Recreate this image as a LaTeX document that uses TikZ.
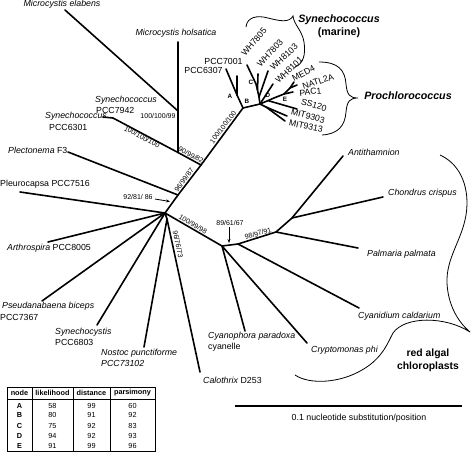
\documentclass[tikz,border=0pt]{standalone}
\usepackage{fontspec}
\setmainfont{Liberation Sans}
\usetikzlibrary{arrows.meta}
\begin{document}
\begin{tikzpicture}[x=1pt,y=-1pt,
  br/.style={line width=1.6pt, line cap=round, line join=round},
  sp/.style={font=\fontsize{8.8}{10}\selectfont\itshape, inner sep=0pt},
  rg/.style={font=\fontsize{8.8}{10}\selectfont, inner sep=0pt},
  wh/.style={font=\fontsize{8.7}{10}\selectfont, inner sep=0pt},
  bs/.style={font=\fontsize{7}{8}\selectfont, inner sep=0pt},
  lt/.style={font=\fontsize{6.3}{7}\selectfont\bfseries, inner sep=0pt},
  big/.style={font=\fontsize{10.7}{12}\selectfont\bfseries, inner sep=0pt},
  tb/.style={font=\fontsize{7.3}{8}\selectfont, inner sep=0pt},
  tbb/.style={font=\fontsize{7.3}{8}\selectfont\bfseries, inner sep=0pt},
  brace/.style={line width=0.8pt},
  arr/.style={line width=0.8pt, -{Stealth[length=4pt,width=3pt]}}
]
\fill[white] (0,0) rectangle (474,452);
\useasboundingbox (0,0) rectangle (474,452);

% ---------- internal nodes ----------
\coordinate (R0) at (165,213);
\coordinate (N1) at (178,195);
\coordinate (N2) at (201,165);
\coordinate (N3) at (178,152.5);
\coordinate (N4) at (178,111);
\coordinate (X)  at (243,108);
\coordinate (NA) at (237,95);
\coordinate (NB) at (260,104);
\coordinate (NC) at (256,84);
\coordinate (P1) at (259,97);
\coordinate (P2) at (257.5,90);
\coordinate (NS) at (268,100.6);
\coordinate (ND) at (274,98);
\coordinate (NE) at (284,94);
\coordinate (NM) at (290,88);
\coordinate (NT) at (266,107);
\coordinate (N5) at (167,219);
\coordinate (N6) at (222,246);
\coordinate (N7) at (238,244);
\coordinate (N8) at (276,232);
\coordinate (N9) at (292,218);

% ---------- leaf ends ----------
\coordinate (lElab) at (65,10);
\coordinate (lHols) at (178,42);
\coordinate (lSyn)  at (113,118);
\coordinate (lSyn0) at (103,117);
\coordinate (lPlec) at (68,152);
\coordinate (lPleu) at (20,192);
\coordinate (lArth) at (48,242);
\coordinate (lPseu) at (42,301);
\coordinate (lSyny) at (97,325);
\coordinate (lNost) at (144,347);
\coordinate (lCalo) at (200,372);
\coordinate (lCyph) at (245,331);
\coordinate (lCryp) at (307,343);
\coordinate (lCyan) at (359,308);
\coordinate (lPalm) at (358,248);
\coordinate (lChon) at (383,197);
\coordinate (lAnti) at (343,156);
\coordinate (l7001) at (237,76);
\coordinate (l6307) at (226,69);
\coordinate (lW7805) at (247,65);
\coordinate (lW7803) at (258,74);
\coordinate (lW8103) at (268,71);
\coordinate (lW8101) at (273,84);
\coordinate (lMED) at (294,82);
\coordinate (lNATL) at (297,85);
\coordinate (lPAC) at (293,92);
\coordinate (lSS) at (297,109);
\coordinate (l9303) at (287,116);
\coordinate (l9313) at (285,121);

% ---------- branches ----------
\draw[br] (lElab) -- (N4);
\draw[br] (lHols) -- (N4) -- (N3);
\draw[br] (lSyn0) -- (lSyn) -- (N3) -- (N2);
\draw[br] (R0) -- (N1) -- (N2) -- (X);
\draw[br] (lPlec) -- (N1);
\draw[br] (X) -- (NA) -- (l6307);
\draw[br] (NA) -- (l7001);
\draw[br] (X) -- (NB);
\draw[br] (NB) -- (P1) -- (P2) -- (NC) -- (lW7805);
\draw[br] (P2) -- (lW7803);
\draw[br] (P1) -- (lW8103);
\draw[br] (NB) -- (lW8101);
\draw[br] (NB) -- (NS) -- (ND) -- (NE) -- (NM) -- (lMED);
\draw[br] (NM) -- (lNATL);
\draw[br] (NE) -- (lPAC);
\draw[br] (NS) -- (lSS);
\draw[br] (NB) -- (NT) -- (l9303);
\draw[br] (NT) -- (l9313);
\draw[br] (lPleu) -- (R0);
\draw[br] (lArth) -- (R0);
\draw[br] (lPseu) -- (R0);
\draw[br] (lSyny) -- (R0);
\draw[br] (R0) -- (N5) -- (lNost);
\draw[br] (N5) -- (lCalo);
\draw[br] (R0) -- (N6) -- (N7) -- (N8) -- (N9) -- (lAnti);
\draw[br] (N9) -- (lChon);
\draw[br] (N8) -- (lPalm);
\draw[br] (N7) -- (lCyan);
\draw[br] (N6) -- (lCyph);
\draw[br] (N6) -- (lCryp);

% ---------- leaf labels ----------
\node[sp] (tElab) at (62,4.5) {Microcystis elabens};
\node[sp] (tHols) at (176,33) {Microcystis holsatica};
\node[sp] (tS7942a) at (126,100) {Synechococcus};
\node[rg, anchor=west] (tS7942b) at (96,110) {PCC7942};
\node[sp] (tS6301a) at (76,116) {Synechococcus};
\node[rg, anchor=west] (tS6301b) at (49,127) {PCC6301};
\node[rg, anchor=west] (tPlec) at (8,150) {\textit{Plectonema} F3};
\node[rg, anchor=west] (tPleu) at (0,184) {Pleurocapsa PCC7516};
\node[rg, anchor=west] (tArth) at (7,248) {\textit{Arthrospira} PCC8005};
\node[sp, anchor=west] (tPseu) at (2,306) {Pseudanabaena biceps};
\node[rg, anchor=west] (tPseub) at (0,317) {PCC7367};
\node[sp, anchor=west] (tSyny) at (55,332) {Synechocystis};
\node[rg, anchor=west] (tSynyb) at (55,342.5) {PCC6803};
\node[sp, anchor=west] (tNost) at (101,353) {Nostoc punctiforme};
\node[sp, anchor=west] (tNostb) at (101,363.5) {PCC73102};
\node[rg, anchor=west] (tCalo) at (203,380) {\textit{Calothrix} D253};
\node[sp, anchor=west] (tCyph) at (208,336) {Cyanophora paradoxa};
\node[rg, anchor=west] (tCyphb) at (208,347) {cyanelle};
\node[sp, anchor=west] (tCryp) at (311,350) {Cryptomonas phi};
\node[sp, anchor=west] (tCyan) at (358,316) {Cyanidium caldarium};
\node[sp, anchor=west] (tPalm) at (367,254) {Palmaria palmata};
\node[sp, anchor=west] (tChon) at (388,193) {Chondrus crispus};
\node[sp, anchor=west] (tAnti) at (348,152) {Antithamnion};
\node[rg] (t7001) at (223.5,61.5) {PCC7001};
\node[rg] (t6307) at (203.5,70.5) {PCC6307};
\node[wh, rotate=50] (tW7805) at (254,42) {WH7805};
\node[wh, rotate=48] (tW7803) at (270,53) {WH7803};
\node[wh, rotate=43] (tW8103) at (284,57) {WH8103};
\node[wh, rotate=44] (tW8101) at (289,70) {WH8101};
\node[wh, rotate=28] (tMED) at (303.5,73.5) {MED4};
\node[wh, rotate=18] (tNATL) at (318,81.5) {NATL2A};
\node[wh, rotate=6] (tPAC) at (310.5,92) {PAC1};
\node[wh, rotate=-17] (tSS) at (314,105) {SS120};
\node[wh, rotate=-15] (t9303) at (308,116) {MIT9303};
\node[wh, rotate=-12] (t9313) at (306,126.5) {MIT9313};

% ---------- node letters ----------
\node[lt] (LA) at (230,96) {A};
\node[lt] (LB) at (247,101) {B};
\node[lt] (LC) at (251,82) {C};
\node[lt] (LD) at (268,95.5) {D};
\node[lt] (LE) at (285,99) {E};

% ---------- bootstrap labels ----------
\node[bs] (b1) at (158,116) {100/100/99};
\node[bs, rotate=-28] (b2) at (142,137) {100/100/100};
\node[bs, rotate=-28] (b3) at (191,155) {90/99/82};
\node[bs, rotate=53] (b4) at (184,180) {96/99/87};
\node[bs, rotate=53] (b5) at (223,127) {100/100/100};
\node[bs] (b6) at (138,197) {92/81/ 86};
\coordinate (a6) at (170,201.5);
\draw[arr] (b6.east) ++(2,2) -- (a6);
\node[bs, rotate=-30] (b7) at (193,224) {100/99/98};
\node[bs, rotate=-78] (b8) at (178,244) {96/76/73};
\node[bs] (b9) at (230,222.5) {89/61/67};
\coordinate (a9) at (229,243);
\draw[arr] (b9.south) ++(-1,2) -- (a9);
\node[bs, rotate=17] (b10) at (258,233.5) {98/97/91};

% ---------- braces & group labels ----------
\draw[brace] (246,27) .. controls (247,17) and (257,15) .. (268,18)
  .. controls (280,21) and (289,23) .. (293,16)
  .. controls (294,25) and (302,30) .. (304,42)
  .. controls (306,55) and (303,64) .. (295,67);
\node[big] (gSyn) at (339,19.5) {\textit{Synechococcus}};
\node[big] (gSynb) at (339,32.5) {(marine)};

\draw[brace] (319,62) .. controls (338,62) and (345,70) .. (346,84)
  .. controls (347,95) and (350,98) .. (358,98)
  .. controls (350,98) and (347,101) .. (346,112)
  .. controls (345,126) and (338,134) .. (322,135);
\node[big] (gPro) at (408,96) {\textit{Prochlorococcus}};

\draw[brace] (440,155) .. controls (462,165) and (470,190) .. (466,215)
  .. controls (462,240) and (446,258) .. (447,283)
  .. controls (448,305) and (458,322) .. (470,332)
  .. controls (445,316) and (405,316) .. (393,333)
  .. controls (388,342) and (383,358) .. (362,370)
  .. controls (340,383) and (310,385) .. (295,375);
\node[big, font=\fontsize{10.4}{12}\selectfont\bfseries] (gRed) at (428,354) {red algal};
\node[big, font=\fontsize{10.4}{12}\selectfont\bfseries] (gRedb) at (428,367) {chloroplasts};

% ---------- scale bar ----------
\coordinate (s1) at (235,406);
\coordinate (s2) at (462,406);
\draw[line width=1.2pt] (s1) -- (s2);
\node[rg] (tScale) at (359,418.5) {0.1 nucleotide substitution/position};

% ---------- table ----------
\draw[line width=0.8pt] (7,387) rectangle (155,451.5);
\draw[line width=0.8pt] (7,399) -- (155,399);
\foreach \xx in {32,73,110} \draw[line width=0.8pt] (\xx,387) -- (\xx,451.5);
\node[tbb] (h1) at (19.5,393) {node};
\node[tbb] (h2) at (52.5,393) {likelihood};
\node[tbb] (h3) at (91.5,393) {distance};
\node[tbb] (h4) at (132.5,393) {parsimony};
\foreach \nm/\lk/\ds/\ps/\yy in {A/58/99/60/406,B/80/91/92/415,C/75/92/83/426,D/94/92/93/436,E/91/99/96/446}{
  \node[tbb] (r\nm a) at (19.5,\yy) {\nm};
  \node[tb] (r\nm b) at (52.5,\yy) {\lk};
  \node[tb] (r\nm c) at (91.5,\yy) {\ds};
  \node[tb] (r\nm d) at (132.5,\yy) {\ps};
}
\end{tikzpicture}
\end{document}
